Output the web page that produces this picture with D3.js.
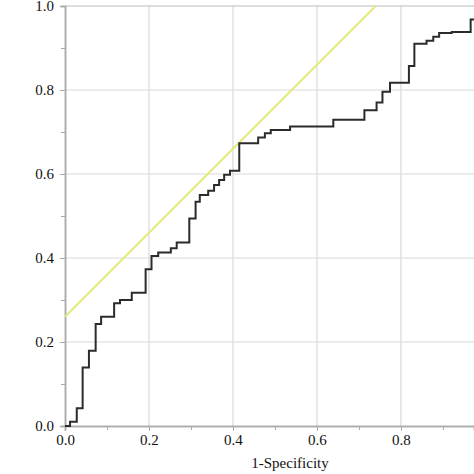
<!DOCTYPE html>
<html>
<head>
<meta charset="utf-8">
<script src="https://d3js.org/d3.v7.min.js"></script>
<style>
  body { margin: 0; background: #fff; }
  text { font-family: "Liberation Serif", serif; font-size: 15px; fill: #111; }
</style>
</head>
<body>
<svg id="chart"></svg>
<script>
// ROC curve vertices (1-specificity, sensitivity), step after
var fpr = [0, 0.012, 0.028, 0.042, 0.057, 0.073, 0.086, 0.117, 0.131, 0.159, 0.192, 0.206, 0.222, 0.252, 0.266, 0.296, 0.311, 0.321, 0.341, 0.355, 0.367, 0.379, 0.393, 0.415, 0.46, 0.476, 0.49, 0.536, 0.639, 0.713, 0.742, 0.756, 0.774, 0.819, 0.832, 0.861, 0.877, 0.891, 0.921, 0.966, 0.975];
var tpr = [0, 0.01, 0.042, 0.139, 0.179, 0.243, 0.26, 0.292, 0.30, 0.317, 0.373, 0.405, 0.413, 0.423, 0.437, 0.494, 0.534, 0.55, 0.56, 0.574, 0.586, 0.598, 0.608, 0.673, 0.687, 0.697, 0.705, 0.713, 0.729, 0.752, 0.77, 0.796, 0.817, 0.857, 0.91, 0.917, 0.927, 0.936, 0.938, 0.968, 0.968];
// reference line
var refX = [0, 0.74];
var refY = [0.26, 1.0];
var majorTicks = [0, 0.2, 0.4, 0.6, 0.8];
var yTicks = [0, 0.2, 0.4, 0.6, 0.8, 1.0];
var minorTicks = [0.1, 0.3, 0.5, 0.7, 0.9];

var W = 474, H = 474;
var svg = d3.select("#chart").attr("width", W).attr("height", H);

var x = d3.scaleLinear().domain([0, 0.974]).range([65, 474]);
var y = d3.scaleLinear().domain([0, 1]).range([426, 6]);

// grid
svg.selectAll(".gx").data(majorTicks.slice(1)).enter().append("line")
  .attr("x1", d => x(d)).attr("x2", d => x(d)).attr("y1", y(0)).attr("y2", y(1))
  .attr("stroke", "#d9d9d9").attr("stroke-width", 1.2);
svg.selectAll(".gy").data(yTicks.slice(1, 5)).enter().append("line")
  .attr("x1", x(0)).attr("x2", W).attr("y1", d => y(d)).attr("y2", d => y(d))
  .attr("stroke", "#d9d9d9").attr("stroke-width", 1.2);
// top border
svg.append("line").attr("x1", x(0)).attr("x2", W).attr("y1", y(1)).attr("y2", y(1))
  .attr("stroke", "#bbb").attr("stroke-width", 1.2);

// axes
svg.append("g").attr("transform", "translate(0," + y(0) + ")")
  .call(d3.axisBottom(x).tickValues(majorTicks).tickFormat(d3.format(".1f")).tickSize(5).tickPadding(3));
svg.append("g").attr("transform", "translate(0," + y(0) + ")")
  .call(d3.axisBottom(x).tickValues(minorTicks).tickFormat("").tickSize(4));
svg.append("g").attr("transform", "translate(" + x(0) + ",0)")
  .call(d3.axisLeft(y).tickValues(yTicks).tickFormat(d3.format(".1f")).tickSize(5).tickPadding(6));
svg.append("g").attr("transform", "translate(" + x(0) + ",0)")
  .call(d3.axisLeft(y).tickValues(minorTicks).tickFormat("").tickSize(4));
svg.selectAll("g").attr("font-family", "Liberation Serif, serif").attr("font-size", 15);
svg.selectAll(".domain").attr("stroke", "#aaa").attr("stroke-width", 1.5);
svg.selectAll(".tick line").attr("stroke", "#aaa");
svg.selectAll(".tick text").style("font-size", "15px").attr("fill", "#111");

// reference line
svg.append("line")
  .attr("x1", x(refX[0])).attr("y1", y(refY[0]))
  .attr("x2", x(refX[1])).attr("y2", y(refY[1]))
  .attr("stroke", "#e4ea78").attr("stroke-width", 2);

// ROC curve
var pts = fpr.map((d, i) => [d, tpr[i]]);
svg.append("path")
  .datum(pts)
  .attr("fill", "none").attr("stroke", "#2b2b2b").attr("stroke-width", 2)
  .attr("d", d3.line().x(d => x(d[0])).y(d => y(d[1])).curve(d3.curveStepAfter));

svg.append("text").attr("x", 290).attr("y", 468).attr("text-anchor", "middle")
  .text("1-Specificity");
</script>
</body>
</html>
